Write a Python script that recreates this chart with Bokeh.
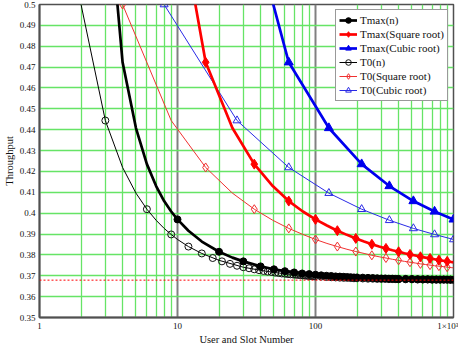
from bokeh.plotting import figure
from bokeh.models import FixedTicker, Span, Legend, LegendItem, Range1d
from bokeh.embed import file_html
from bokeh.resources import INLINE

# ---------------- data ----------------
x_ticks = [1, 10, 100, 1000]
x_tick_labels = ["1", "10", "100", "1\u00d710\u00b3"]
x_minor = [2, 3, 4, 5, 6, 7, 8, 9, 20, 30, 40, 50, 60, 70, 80, 90,
           200, 300, 400, 500, 600, 700, 800, 900]
y_ticks = [0.35, 0.36, 0.37, 0.38, 0.39, 0.40, 0.41, 0.42, 0.43, 0.44,
           0.45, 0.46, 0.47, 0.48, 0.49, 0.50]
y_tick_labels = ["0.35", "0.36", "0.37", "0.38", "0.39", "0.4", "0.41", "0.42",
                 "0.43", "0.44", "0.45", "0.46", "0.47", "0.48", "0.49", "0.5"]
limit_value = 0.3679

# Tmax(n) curve and its markers
tmax_n_x = [3, 4, 5, 6, 7, 8, 9, 10, 12, 15, 20, 25, 30, 40, 50, 60, 70, 80, 90,
            100, 150, 200, 300, 400, 500, 700, 1000]
tmax_n_y = [0.565, 0.4723, 0.4408, 0.4235, 0.4130, 0.4058, 0.4008, 0.3970, 0.3916,
            0.3864, 0.3815, 0.3787, 0.3769, 0.3745, 0.3731, 0.3722, 0.3716, 0.3711,
            0.3708, 0.3705, 0.3696, 0.3692, 0.3687, 0.3685, 0.3684, 0.36825, 0.3681]
tmax_n_mx = [10, 20, 30, 40, 50, 60, 70, 80, 90, 100, 110, 120, 130, 140, 150, 160,
             170, 180, 190, 200, 220, 240, 260, 280, 300, 320, 340, 360, 380, 400,
             450, 500, 550, 600, 650, 700, 750, 800, 850, 900, 950, 1000]
tmax_n_my = [0.3970, 0.3815, 0.3769, 0.3745, 0.3731, 0.3722, 0.3716, 0.3711, 0.3708,
             0.3705, 0.3702, 0.3700, 0.3699, 0.3697, 0.3696, 0.3695, 0.3694, 0.3693,
             0.3692, 0.3692, 0.3691, 0.3690, 0.3689, 0.3688, 0.3687, 0.3687, 0.3686,
             0.3686, 0.3685, 0.3685, 0.3685, 0.3684, 0.36835, 0.3683, 0.3683,
             0.36825, 0.3682, 0.3682, 0.3682, 0.36817, 0.3681, 0.3681]

# T0(n) curve and its markers
t0_n_x = [2, 3, 4, 5, 6, 7, 8, 9, 10, 12, 15, 20, 30, 40, 50, 60, 80, 100, 150,
          200, 300, 500, 700, 1000]
t0_n_y = [0.5, 0.4444, 0.4219, 0.4096, 0.4019, 0.3966, 0.3927, 0.3898, 0.3874,
          0.3840, 0.3807, 0.3774, 0.3741, 0.3726, 0.3716, 0.3710, 0.3702, 0.3697,
          0.3691, 0.3688, 0.3685, 0.3683, 0.3681, 0.3681]
t0_n_mx = [3, 6, 9, 12, 15, 18, 21, 24, 27, 30, 33, 36, 39, 42, 45, 48, 51, 54, 57,
           60, 63, 66, 69, 72, 75, 78, 81, 84, 87, 90, 93, 96, 99, 110, 120, 130,
           140, 150, 160, 170, 180, 190, 200, 220, 240, 260, 280, 300, 320, 340, 360,
           380, 400, 450, 500, 550, 600, 650, 700, 750, 800, 850, 900, 950, 1000]
t0_n_my = [0.4444, 0.4019, 0.3898, 0.3840, 0.3807, 0.3785, 0.3769, 0.3757, 0.3748,
           0.3741, 0.3736, 0.3731, 0.3727, 0.3723, 0.3720, 0.3718, 0.3715, 0.3713,
           0.3711, 0.3710, 0.3708, 0.3707, 0.3706, 0.3705, 0.3704, 0.3703, 0.3702,
           0.3701, 0.3700, 0.3699, 0.3699, 0.3698, 0.3697, 0.3696, 0.3694, 0.3693,
           0.3692, 0.3691, 0.3690, 0.3690, 0.3689, 0.3688, 0.3688, 0.3687, 0.3686,
           0.3686, 0.3685, 0.3685, 0.3685, 0.3684, 0.3684, 0.3684, 0.3683, 0.3683,
           0.3683, 0.3682, 0.3682, 0.3682, 0.3681, 0.3681, 0.3681, 0.3681, 0.3681,
           0.3681, 0.3681]

# Square-root curves
sq_x = [9, 16, 25, 36, 49, 64, 81, 100, 121, 144, 169, 196, 225, 256, 289, 324,
        361, 400, 441, 484, 529, 576, 625, 676, 729, 784, 841, 900, 961, 1000]
tmax_sq_y = [0.565, 0.4723, 0.4408, 0.4235, 0.4130, 0.4058, 0.4008, 0.3970, 0.3941,
             0.3916, 0.3896, 0.3879, 0.3864, 0.3851, 0.3840, 0.3831, 0.3822, 0.3815,
             0.3808, 0.3802, 0.3797, 0.3791, 0.3787, 0.3783, 0.3779, 0.3775, 0.3772,
             0.3769, 0.3766, 0.3764]
tmax_sq_mx = [16, 36, 64, 100, 144, 196, 256, 324, 400, 484, 576, 676, 784, 900]
tmax_sq_my = [0.4723, 0.4235, 0.4058, 0.3970, 0.3916, 0.3879, 0.3851, 0.3831, 0.3815,
              0.3802, 0.3791, 0.3783, 0.3775, 0.3769]
t0_sq_x = [4, 9, 16, 25, 36, 49, 64, 81, 100, 121, 144, 169, 196, 225, 256, 289,
           324, 361, 400, 441, 484, 529, 576, 625, 676, 729, 784, 841, 900, 961, 1000]
t0_sq_y = [0.5, 0.4444, 0.4219, 0.4096, 0.4019, 0.3966, 0.3927, 0.3898, 0.3874,
           0.3855, 0.3840, 0.3827, 0.3816, 0.3807, 0.3798, 0.3791, 0.3785, 0.3779,
           0.3774, 0.3769, 0.3765, 0.3761, 0.3757, 0.3754, 0.3751, 0.3748, 0.3746,
           0.3744, 0.3741, 0.3739, 0.3738]
t0_sq_mx = [4, 16, 36, 64, 100, 144, 196, 256, 324, 400, 484, 576, 676, 784, 900]
t0_sq_my = [0.5, 0.4219, 0.4019, 0.3927, 0.3874, 0.3840, 0.3816, 0.3798, 0.3785,
            0.3774, 0.3765, 0.3757, 0.3751, 0.3746, 0.3741]

# Cubic-root curves
cu_x = [27, 64, 125, 216, 343, 512, 729, 1000]
tmax_cu_y = [0.565, 0.4723, 0.4408, 0.4235, 0.4130, 0.4058, 0.4008, 0.3970]
tmax_cu_mx = [64, 125, 216, 343, 512, 729, 1000]
tmax_cu_my = [0.4723, 0.4408, 0.4235, 0.4130, 0.4058, 0.4008, 0.3970]
t0_cu_x = [8, 27, 64, 125, 216, 343, 512, 729, 1000]
t0_cu_y = [0.5, 0.4444, 0.4219, 0.4096, 0.4019, 0.3966, 0.3927, 0.3898, 0.3874]

# ---------------- figure ----------------
SERIF = "Liberation Serif"
GREEN = "#66e466"
DARK = "#505050"

p = figure(width=458, height=347, x_axis_type="log",
           x_range=Range1d(1, 1000), y_range=Range1d(0.35, 0.5),
           output_backend="svg", toolbar_location=None,
           min_border_left=34, min_border_right=5, min_border_top=4,
           min_border_bottom=24,
           x_axis_label="User and Slot Number", y_axis_label="Throughput")
p.background_fill_color = "white"
p.border_fill_color = "white"
p.outline_line_color = DARK
p.outline_line_width = 1.5

p.xaxis.ticker = FixedTicker(ticks=x_ticks, minor_ticks=x_minor)
p.xaxis.major_label_overrides = dict(zip(x_ticks, x_tick_labels))
p.yaxis.ticker = FixedTicker(ticks=y_ticks)
p.yaxis.major_label_overrides = dict(zip(y_ticks, y_tick_labels))

for ax in (p.xaxis[0], p.yaxis[0]):
    ax.axis_line_color = DARK
    ax.axis_line_width = 2
    ax.major_tick_line_color = None
    ax.minor_tick_line_color = None
    ax.major_tick_out = 0
    ax.major_tick_in = 0
    ax.minor_tick_out = 0
    ax.minor_tick_in = 0
    ax.major_label_text_font = SERIF
    ax.major_label_text_font_size = "9px"
    ax.major_label_text_color = "#111111"
    ax.axis_label_text_font = SERIF
    ax.axis_label_text_font_style = "normal"
    ax.axis_label_text_font_size = "10.5px"
    ax.axis_label_text_color = "#111111"
p.xaxis.major_label_standoff = 3
p.xaxis.axis_label_standoff = 0
p.yaxis.major_label_standoff = 4
p.yaxis.axis_label_standoff = 2

p.xgrid.grid_line_color = "#808080"
p.xgrid.grid_line_width = 2
p.xgrid.minor_grid_line_color = GREEN
p.xgrid.minor_grid_line_width = 1.3
p.ygrid.grid_line_color = GREEN
p.ygrid.grid_line_width = 1.3

p.add_layout(Span(location=limit_value, dimension="width", line_color="red",
                  line_dash="2 2", line_width=1))

RED = "#ff0000"
BLUE = "#0000ee"

# thin T0 curves
l_t0n = p.line(t0_n_x, t0_n_y, line_color="black", line_width=1)
m_t0n = p.scatter(t0_n_mx, t0_n_my, marker="circle", size=7, fill_color=None,
                  line_color="#111111", line_width=1)
l_t0s = p.line(t0_sq_x, t0_sq_y, line_color="#f03030", line_width=1)
m_t0s = p.scatter(t0_sq_mx, t0_sq_my, marker="diamond", size=9, fill_color=None,
                  line_color="#f03030", line_width=1)
l_t0c = p.line(t0_cu_x, t0_cu_y, line_color="#2a2ae6", line_width=1)
m_t0c = p.scatter(t0_cu_x, t0_cu_y, marker="triangle", size=8, fill_color=None,
                  line_color="#2a2ae6", line_width=1)

# thick Tmax curves
l_tmn = p.line(tmax_n_x, tmax_n_y, line_color="black", line_width=2.7)
m_tmn = p.scatter(tmax_n_mx, tmax_n_my, marker="circle", size=7, fill_color="black",
                  line_color="black")
l_tms = p.line(sq_x, tmax_sq_y, line_color=RED, line_width=2.7)
m_tms = p.scatter(tmax_sq_mx, tmax_sq_my, marker="diamond", size=10, fill_color=RED,
                  line_color=RED)
l_tmc = p.line(cu_x, tmax_cu_y, line_color=BLUE, line_width=2.7)
m_tmc = p.scatter(tmax_cu_mx, tmax_cu_my, marker="triangle", size=9, fill_color=BLUE,
                  line_color=BLUE)

legend = Legend(items=[
    LegendItem(label="Tmax(n)", renderers=[l_tmn, m_tmn]),
    LegendItem(label="Tmax(Square root)", renderers=[l_tms, m_tms]),
    LegendItem(label="Tmax(Cubic root)", renderers=[l_tmc, m_tmc]),
    LegendItem(label="T0(n)", renderers=[l_t0n, m_t0n]),
    LegendItem(label="T0(Square root)", renderers=[l_t0s, m_t0s]),
    LegendItem(label="T0(Cubic root)", renderers=[l_t0c, m_t0c]),
], location="top_right")
legend.label_text_font = SERIF
legend.label_text_font_size = "11px"
legend.label_text_color = "#111111"
legend.label_height = 14
legend.glyph_height = 14
legend.glyph_width = 18
legend.label_standoff = 3
legend.spacing = 0
legend.padding = 3
legend.margin = 5
legend.border_line_color = "#333333"
legend.border_line_width = 1
legend.background_fill_color = "white"
legend.background_fill_alpha = 1.0
p.add_layout(legend)

open("out.html", "w").write(file_html(p, INLINE))
